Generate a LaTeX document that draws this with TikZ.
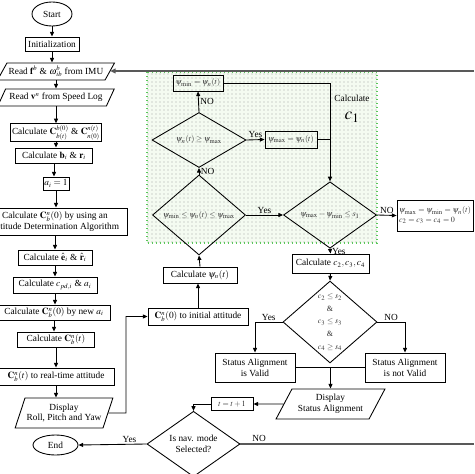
\documentclass[tikz,border=0pt]{standalone}
\usepackage{amsmath}
\usepackage{amssymb}
\usepackage{mathptmx}
\usepackage{fontspec}
\setmainfont{Liberation Serif}
\usepackage{tikz}
\usetikzlibrary{calc,shapes.geometric,arrows.meta,patterns}

\begin{document}
\begin{tikzpicture}[x=0.75pt,y=0.75pt,yscale=-1,xscale=1,
    font=\fontsize{7}{8}\selectfont,
    proc/.style={draw,line width=0.65pt,inner sep=1pt,align=center},
    io/.style={trapezium,trapezium stretches=true,draw,line width=0.65pt,inner sep=0pt,align=center},
    term/.style={ellipse,draw,line width=0.65pt,inner sep=0pt},
    decision/.style={diamond,draw,line width=0.65pt,inner sep=0pt,align=center},
    mth/.style={font=\fontsize{6}{7}\selectfont,text=black!80},
    arr/.style={-{Triangle[length=3.5pt,width=3pt]},line width=0.65pt},
    link/.style={line width=0.65pt},
    far/.style={line width=1.2pt,draw=black!65},
    lbl/.style={inner sep=1pt}]
\useasboundingbox (0,0) rectangle (474,474);
\clip (0,0) rectangle (474,474);
%Shaded region: calculate c1
\fill [color={rgb, 255:red, 244; green, 251; blue, 241 }] (147,72) rectangle (377,243);
\fill [pattern=dots,pattern color=black!35] (147,72) rectangle (377,243);
\draw [color={rgb, 255:red, 90; green, 200; blue, 90 },dotted,line width=1pt] (147,72) rectangle (377,243);
%Left column
\node[term,minimum width=30pt,minimum height=18pt] (start) at (52,14) {Start};
\node[proc,minimum width=40.5pt,minimum height=10.5pt] (init) at (52,44) {Initialization};
\node[io,trapezium left angle=50,trapezium right angle=130,minimum width=88pt,minimum height=12.75pt] (imu) at (56,71.5) {Read $\mathbf{f}^{b}$ \& $\boldsymbol{\omega}^{b}_{ib}$ from IMU};
\node[io,trapezium left angle=50,trapezium right angle=130,minimum width=88pt,minimum height=12.75pt] (speed) at (56,97.5) {Read $\mathbf{v}^{n}$ from Speed Log};
\node[proc,minimum width=67.5pt,minimum height=11.25pt] (cbb) at (56,132.5) {Calculate $\mathbf{C}^{b(0)}_{b(t)}$ \& $\mathbf{C}^{n(t)}_{n(0)}$};
\node[proc,minimum width=57.75pt,minimum height=11.25pt] (bi) at (54,155.5) {Calculate $\mathbf{b}_{i}$ \& $\mathbf{r}_{i}$};
\node[proc,minimum width=15.75pt,minimum height=9.75pt] (ai) at (56,183.5) {$a_{i}=1$};
\node[proc,minimum width=108pt,minimum height=20.25pt] (ada) at (55,221.5) {Calculate $\mathbf{C}^{n}_{b}(0)$ by using an\\Attitude Determination Algorithm};
\node[proc,minimum width=55.5pt,minimum height=11.25pt] (ehat) at (55,257.5) {Calculate $\hat{\mathbf{e}}_{i}$ \& $\hat{\mathbf{r}}_{i}$};
\node[proc,minimum width=63pt,minimum height=12pt] (cpd) at (55,285) {Calculate $c_{pd,i}$ \& $a_{i}$};
\node[proc,minimum width=84pt,minimum height=11.25pt] (cnew) at (54,312.5) {Calculate $\mathbf{C}^{n}_{b}(0)$ by new $a_{i}$};
\node[proc,minimum width=57.75pt,minimum height=11.25pt] (ct) at (56,339.5) {Calculate $\mathbf{C}^{n}_{b}(t)$};
\node[proc,minimum width=87pt,minimum height=12.75pt] (rt) at (56,376.5) {$\mathbf{C}^{n}_{b}(t)$ to real-time attitude};
\node[io,trapezium left angle=63,trapezium right angle=117,minimum width=73.5pt,minimum height=22.5pt] (disp) at (64,413) {Display\\Roll, Pitch and Yaw};
\node[term,minimum width=33.75pt,minimum height=15pt] (end) at (55.5,445) {End};
%Middle column
\node[proc,minimum width=75pt,minimum height=12.75pt] (initatt) at (198,316.5) {$\mathbf{C}^{n}_{b}(0)$ to initial attitude};
\node[proc,minimum width=55.5pt,minimum height=12pt] (psi) at (200,275) {Calculate $\psi_{n}(t)$};
\node[decision,mth,minimum width=69.75pt,minimum height=41.25pt] (d1) at (199,215) {$\psi_{\min}\le\psi_{n}(t)\le\psi_{\max}$};
\node[decision,mth,minimum width=70.5pt,minimum height=41.25pt] (d2) at (199,140) {$\psi_{n}(t)\ge\psi_{\max}$};
\node[proc,mth,minimum width=37.5pt,minimum height=12pt] (psimin) at (198,83) {$\psi_{\min}=\psi_{n}(t)$};
\node[proc,mth,minimum width=39pt,minimum height=12.75pt] (psimax) at (291,139.5) {$\psi_{\max}=\psi_{n}(t)$};
\node[decision,mth,minimum width=69.75pt,minimum height=41.25pt] (d3) at (330,215) {$\psi_{\max}-\psi_{\min}\le s_{1}$};
\node (calc) at (352,98) {Calculate};
\node[font=\fontsize{13}{15}\selectfont] (cone) at (352,117) {$c_{1}$};
%Right column
\node[proc,mth,minimum width=57pt,minimum height=23.25pt,align=left] (zero) at (435,215.5) {$\psi_{\max}=\psi_{\min}=\psi_{n}(t)$\\$c_{2}=c_{3}=c_{4}=0$};
\node[proc,minimum width=57.75pt,minimum height=14.25pt] (c234) at (330.5,263.5) {Calculate $c_{2},c_{3},c_{4}$};
\node[decision,mth,minimum width=70.5pt,minimum height=59.25pt,font=\fontsize{6}{9.5}\selectfont] (d4) at (330,322) {$c_{2}\le s_{2}$\\\&\\$c_{3}\le s_{3}$\\\&\\$c_{4}\ge s_{4}$};
\node[proc,minimum width=60pt,minimum height=21.75pt] (valid) at (255,367.5) {Status Alignment\\is Valid};
\node[proc,minimum width=60pt,minimum height=21.75pt] (notvalid) at (405,367.5) {Status Alignment\\is not Valid};
\node[io,trapezium left angle=55,trapezium right angle=125,minimum width=81.75pt,minimum height=22.5pt] (dstat) at (330.5,404) {Display\\Status Alignment};
\node[proc,mth,minimum width=31.5pt,minimum height=9.75pt] (tt) at (232,404) {$t=t+1$};
\node[decision,minimum width=69.75pt,minimum height=42.75pt] (d5) at (193.5,444) {Is nav. mode\\Selected?};
%Free ends and bends
\coordinate (dispR) at (126,413);
\coordinate (loopIn) at (474,71);
\coordinate (loopOut) at (474,444);
%Arrows, left column
\draw[arr] (start.south) -- (start.south |- init.north);
\draw[arr] (init.south) -- (init.south |- imu.north);
\draw[arr] (imu.south) -- (imu.south |- speed.north);
\draw[arr] (speed.south) -- (speed.south |- cbb.north);
\draw[arr] (cbb.south) -- (cbb.south |- bi.north);
\draw[arr] (bi.south) -- (bi.south |- ai.north);
\draw[arr] (ai.south) -- (ai.south |- ada.north);
\draw[arr] (ada.south) -- (ada.south |- ehat.north);
\draw[arr] (ehat.south) -- (ehat.south |- cpd.north);
\draw[arr] (cpd.south) -- (cpd.south |- cnew.north);
\draw[arr] (cnew.south) -- (cnew.south |- ct.north);
\draw[arr] (ct.south) -- (ct.south |- rt.north);
\draw[arr] (rt.south) -- (rt.south |- disp.north);
\draw[arr] (disp.east) -- (dispR) |- (initatt.west);
%Arrows, calculate c1
\draw[arr] (initatt.north) -- (initatt.north |- psi.south);
\draw[arr] (psi.north) -- (d1.south);
\draw[arr] (d1.north) -- (d2.south) node[lbl,midway,right] {NO};
\draw[arr] (d2.north) -- (psimin.south) node[lbl,midway,right] {NO};
\draw[arr] (d2.east) -- (psimax.west) node[lbl,midway,above] {Yes};
\draw[arr] (d1.east) -- (d3.west) node[lbl,midway,above] {Yes};
\draw[arr] (psimin.east) -| (d3.north);
\draw[link] (psimax.east) -- (psimax.east -| d3.north);
\draw[arr] (d3.east) -- (zero.west) node[lbl,midway,above] {NO};
\draw[arr] (d3.south) -- (c234.north) node[lbl,midway,right] {Yes};
%Arrows, status
\draw[arr] (c234.south) -- (d4.north);
\draw[arr] (d4.west) -| (valid.north) node[lbl,pos=0.25,above] {Yes};
\draw[arr] (d4.east) -| (notvalid.north) node[lbl,pos=0.25,above] {NO};
\draw[link] (valid.east) -- (notvalid.west);
\draw[arr] (dstat.north |- valid.east) -- (dstat.north);
\draw[arr] (dstat.west) -- (tt.east);
\draw[arr] (tt.west) -| (d5.north);
\draw[arr] (d5.west) -- (end.east) node[lbl,pos=0.25,above] {Yes};
\draw[far] (d5.east) -- (loopOut) node[lbl,pos=0.08,above,text=black] {NO};
\draw[far,-{Triangle[length=4pt,width=3.5pt]}] (loopIn) -- (loopIn -| imu.east);
\end{tikzpicture}
\end{document}
